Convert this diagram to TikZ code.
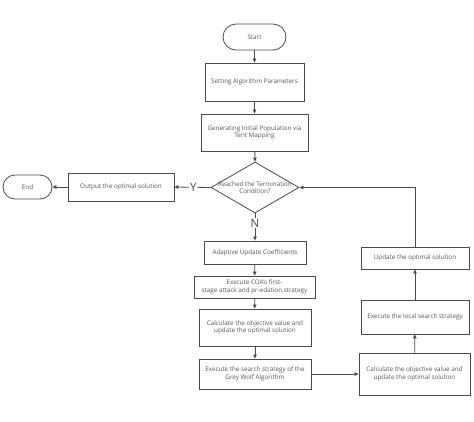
\documentclass[tikz,border=0pt]{standalone}
\usepackage{fontspec}
\setmainfont{Open Sans}
\usetikzlibrary{shapes.geometric,arrows.meta}
\definecolor{ln}{HTML}{4A4A4A}
\definecolor{tx}{HTML}{555555}
\tikzset{
  box/.style={draw=ln,line width=0.8pt,inner sep=1pt,align=center,text=tx,font=\fontsize{6.3}{7.5}\selectfont},
  term/.style={box,rounded corners=12pt},
  arr/.style={draw=ln,line width=0.8pt,-{Triangle[length=4pt,width=3.5pt]}},
  yn/.style={fill=white,inner sep=1pt,text=ln,font=\fontsize{11.5}{11.5}\selectfont}
}
\begin{document}
\begin{tikzpicture}[x=1pt,y=-1pt]
\useasboundingbox (0,0) rectangle (474,421);
\node[term,minimum width=63pt,minimum height=26pt,rounded corners=13pt] (start) at (254.5,37) {Start};
\node[box,minimum width=99pt,minimum height=38pt] (set) at (254.5,82) {Setting Algorithm Parameters};
\node[box,minimum width=107pt,minimum height=37pt] (gen) at (254.5,132.5) {Generating Initial Population via\\Tent Mapping};
\node[diamond,draw=ln,line width=0.8pt,minimum width=88pt,minimum height=51pt,inner sep=0pt] (dia) at (255,187.5) {};
\node[align=center,text=tx,inner sep=0pt,font=\fontsize{6.3}{7.5}\selectfont] (diatext) at (255,187.5) {Reached the Termination\\Condition?};
\node[box,minimum width=106pt,minimum height=28pt] (out) at (121,187) {Output the optimal solution};
\node[term,minimum width=49pt,minimum height=24pt] (end) at (27.5,187) {End};
\node[box,minimum width=102pt,minimum height=23pt] (adapt) at (255,252.5) {Adaptive Update Coefficients};
\node[box,minimum width=121pt,minimum height=22pt] (coa) at (254.5,287) {Execute COA's first-\\stage attack and pr-edation strategy};
\node[box,minimum width=112pt,minimum height=37pt] (calc1) at (255,327.5) {Calculate the objective value and\\update the optimal solution};
\node[box,minimum width=112pt,minimum height=30pt] (gwo) at (255,374) {Execute the search strategy of the\\Grey Wolf Algorithm};
\node[box,minimum width=111pt,minimum height=42pt] (calc2) at (414.5,374) {Calculate the objective value and\\update the optimal solution};
\node[box,minimum width=108pt,minimum height=34pt] (local) at (415,317) {Execute the local search strategy};
\node[box,minimum width=108pt,minimum height=22pt] (upd) at (415,258) {Update the optimal solution};
\coordinate (corner) at (upd.north |- dia.east);
\draw[arr] (start) -- (set);
\draw[arr] (set) -- (gen);
\draw[arr] (gen) -- (dia.north);
\draw[arr] (dia.west) -- node[yn,pos=0.48] (ylab) {Y} (out.east);
\draw[arr] (out) -- (end);
\draw[arr] (dia.south) -- node[yn,pos=0.36] (nlab) {N} (adapt.north);
\draw[arr] (adapt) -- (coa);
\draw[arr] (coa) -- (calc1);
\draw[arr] (calc1) -- (gwo);
\draw[arr] (gwo) -- (calc2);
\draw[arr] (calc2) -- (local);
\draw[arr] (local) -- (upd);
\draw[arr] (upd.north) -- (corner) -- (dia.east);
\end{tikzpicture}
\end{document}
